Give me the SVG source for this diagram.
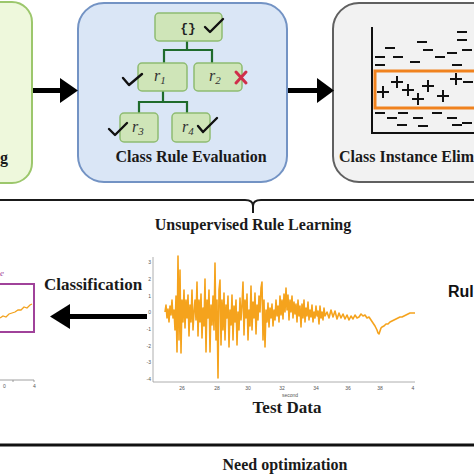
<svg xmlns="http://www.w3.org/2000/svg" width="474" height="474" viewBox="0 0 474 474">
<style>
.title{font-family:"Liberation Serif","Times New Roman",serif;font-weight:bold;fill:#1a1a1a}
.rl{font-family:"Liberation Serif","Times New Roman",serif;font-style:italic;font-size:16px;fill:#333}
.tb{fill:#cfe5b8;stroke:#8fbc72;stroke-width:1.5}
.tree{fill:none;stroke:#1f6b2c;stroke-width:2.2}
.chk{fill:none;stroke:#111;stroke-width:2.4;stroke-linecap:round;stroke-linejoin:round}
.mn{stroke:#111;stroke-width:2}
.pl{stroke:#111;stroke-width:2}
.ax{font-family:"Liberation Sans",Arial,sans-serif;font-size:5px;fill:#555}
</style>
<rect width="474" height="474" fill="#fff"/>

<g id="node-mining">
<rect x="-30" y="2" width="62" height="181" rx="20" fill="#eef8dc" stroke="#9cc76c" stroke-width="2"/>
<text class="title" x="0" y="163" font-size="16">g</text>
</g>

<g id="node-evaluation">
<rect x="78" y="3" width="209" height="179" rx="26" fill="#dae6f6" stroke="#7393c4" stroke-width="2"/>
<path class="tree" d="M187,41 V50 M164,50 H212 M164,49 V63 M212,49 V63 M163,91 V102 M139,102 H187 M139,101 V113 M187,101 V113"/>
<rect class="tb" x="155" y="13" width="67" height="28" rx="4"/>
<rect class="tb" x="138" y="63" width="49" height="28" rx="4"/>
<rect class="tb" x="194" y="63" width="48" height="28" rx="4"/>
<rect class="tb" x="120" y="113" width="38" height="29" rx="4"/>
<rect class="tb" x="172" y="113" width="38" height="29" rx="4"/>
<text x="188" y="32" font-family="'Liberation Mono','DejaVu Sans Mono',monospace" font-size="13" font-weight="bold" fill="#222" text-anchor="middle">{}</text>
<text class="rl" x="154" y="81">r<tspan font-size="11" dy="3">1</tspan></text>
<text class="rl" x="209" y="81">r<tspan font-size="11" dy="3">2</tspan></text>
<text class="rl" x="132" y="132">r<tspan font-size="11" dy="3">3</tspan></text>
<text class="rl" x="182" y="132">r<tspan font-size="11" dy="3">4</tspan></text>
<path class="chk" d="M205,27 L210,32 L223,19"/>
<path class="chk" d="M123,78 L129,85 L142,74"/>
<path class="chk" d="M109,129 L115,135 L127,123"/>
<path class="chk" d="M198,126 L203,132 L217,118"/>
<path d="M236,72 L246,83 M246,72 L236,83" stroke="#cf2f4a" stroke-width="3" stroke-linecap="round"/>
<text class="title" x="191" y="162" font-size="16" text-anchor="middle">Class Rule Evaluation</text>
</g>

<g id="node-elimination">
<rect x="333" y="3" width="170" height="179" rx="26" fill="#f2f2f2" stroke="#606060" stroke-width="2"/>
<path d="M372,27 V133 H480" fill="none" stroke="#111" stroke-width="2"/>
<rect x="375" y="71" width="105" height="37" fill="none" stroke="#f0821e" stroke-width="3"/>
<g class="pl">
<path d="M377,92 h12 M383,86 v12"/>
<path d="M391,82 h12 M397,76 v12"/>
<path d="M402,90 h12 M408,84 v12"/>
<path d="M412,99 h12 M418,93 v12"/>
<path d="M422,86 h12 M428,80 v12"/>
<path d="M437,96 h12 M443,90 v12"/>
<path d="M450,79 h12 M456,73 v12"/>
</g>
<g class="mn">
<path d="M463,82 h10"/>
<path d="M457,32 h10 M457,40 h10 M417,42 h10 M385,48 h10 M375,57 h10 M393,57 h10 M423,50 h10 M435,57 h10 M447,53 h10 M462,50 h10 M410,62 h10 M375,65 h10 M452,65 h10"/>
<path d="M375,113 h10 M387,118 h10 M398,113 h10 M397,125 h10 M413,118 h10 M418,126 h10 M432,113 h10 M447,118 h10 M452,125 h10 M462,123 h10"/>
</g>
<text class="title" x="339" y="162" font-size="16">Class Instance Elimination</text>
</g>

<g id="node-unsupervised">
<path d="M0,200 H245 Q253,200 253,206 V213 M253,206 Q253,200 261,200 H474" fill="none" stroke="#1a1a1a" stroke-width="2"/>
<text class="title" x="253" y="230" font-size="16" text-anchor="middle">Unsupervised Rule Learning</text>
</g>

<g id="node-result">
<path d="M0,380 H34 M13,380 v2 M34,380 v2" stroke="#888" stroke-width="0.8" fill="none"/>
<text class="ax" x="3" y="388">0</text>
<text class="ax" x="33" y="388">4</text>
<text x="0" y="276" font-family="'Liberation Serif',serif" font-style="italic" font-size="9" fill="#a0429a">e</text>
<rect x="-10" y="284" width="44" height="48" fill="none" stroke="#a0429a" stroke-width="2"/>
<path d="M0,318 L3,316 L6,317 L9,314 L12,313 L15,312 L18,310 L21,310 L24,307 L27,308 L30,305 L32,304" fill="none" stroke="#f2a21e" stroke-width="1.3"/>
</g>

<g id="node-testdata">
<path d="M153,257 V382 H415" fill="none" stroke="#999" stroke-width="0.8"/>
<g class="ax" text-anchor="end">
<text x="151" y="264">3</text><text x="151" y="281">2</text><text x="151" y="298">1</text><text x="151" y="314">0</text>
<text x="151" y="331">-1</text><text x="151" y="348">-2</text><text x="151" y="364">-3</text><text x="151" y="381">-4</text>
</g>
<g class="ax" text-anchor="middle">
<text x="182" y="390">26</text><text x="217" y="390">28</text><text x="248" y="390">30</text><text x="282" y="390">32</text>
<text x="316" y="390">34</text><text x="348" y="390">36</text><text x="380" y="390">38</text><text x="413" y="390">4</text>
<text x="290" y="397">second</text>
</g>
<path fill="none" stroke="#f5a31d" stroke-width="1.6" stroke-linejoin="round" d="M165,312 L166,305 L167,318 L168,309 L169,322 L170,306 L171,315 L172,300 L173,318 L174,310 L175,330 L176,296 L177,352 L178,256 L179,340 L180,270 L181,353 L182,300 L183,322 L184,290 L185,328 L186,300 L187,318 L188,295 L189,336 L190,305 L191,322 L192,290 L193,330 L194,312 L195,300 L196,320 L197,282 L198,336 L199,300 L200,322 L201,294 L202,338 L203,308 L204,326 L205,279 L206,352 L207,300 L208,318 L209,290 L210,352 L211,305 L212,325 L213,296 L214,330 L215,263 L216,340 L217,300 L218,378 L219,290 L220,280 L221,345 L222,300 L223,330 L224,293 L225,340 L226,305 L227,318 L228,296 L229,347 L230,310 L231,325 L232,295 L233,340 L234,306 L235,322 L236,300 L237,345 L238,312 L239,330 L240,298 L241,320 L242,305 L243,282 L244,335 L245,300 L246,318 L247,294 L248,340 L249,310 L250,326 L251,286 L252,330 L253,302 L254,318 L255,293 L256,334 L257,305 L258,320 L259,296 L260,312 L261,288 L262,282 L263,340 L264,300 L265,347 L266,310 L267,322 L268,303 L269,327 L270,308 L271,318 L272,304 L273,326 L274,310 L275,320 L276,300 L277,316 L278,306 L279,322 L280,296 L281,315 L282,300 L283,319 L284,294 L285,312 L286,288 L287,310 L288,295 L289,320 L290,300 L291,312 L292,296 L293,318 L294,302 L295,314 L296,304 L297,322 L298,300 L299,316 L300,306 L301,327 L302,304 L303,318 L304,300 L305,322 L306,308 L307,316 L308,302 L309,320 L310,310 L311,317 L312,305 L313,322 L314,312 L315,318 L316,306 L317,316 L318,311 L319,324 L320,306 L321,318 L322,312 L323,320 L324,308 L325,316 L327,312 L329,318 L331,310 L333,317 L335,311 L337,319 L339,313 L341,318 L343,314 L345,319 L347,315 L349,320 L351,316 L353,319 L355,315 L357,318 L359,317 L361,314 L363,316 L365,315 L367,318 L369,317 L371,320 L373,323 L375,326 L377,330 L378,333 L379,334 L380,331 L381,328 L382,327 L384,326 L386,324 L388,324 L390,322 L392,321 L394,320 L396,319 L398,318 L400,317 L402,317 L404,316 L406,315 L408,314 L410,313 L412,313 L414,313 L415,313"/>
<text class="title" x="287" y="413" font-size="17" text-anchor="middle">Test Data</text>
</g>

<g id="node-rule">
<text x="448" y="297" font-family="'Liberation Sans',Arial,sans-serif" font-weight="bold" font-size="16" fill="#111">Rul</text>
</g>

<g id="node-optimization">
<line x1="0" y1="445" x2="474" y2="445" stroke="#111" stroke-width="3"/>
<text class="title" x="285" y="470" font-size="16" text-anchor="middle">Need optimization</text>
</g>

<g id="connectors">
<line x1="33" y1="90.5" x2="60" y2="90.5" stroke="#000" stroke-width="5"/>
<path d="M60,78 L78,90.5 L60,103 Z" fill="#000"/>
<line x1="288" y1="90.5" x2="317" y2="90.5" stroke="#000" stroke-width="5"/>
<path d="M317,78 L334,90.5 L317,103 Z" fill="#000"/>
<line x1="147" y1="316.5" x2="70" y2="316.5" stroke="#000" stroke-width="5"/>
<path d="M70,304 L50,316.5 L70,329 Z" fill="#000"/>
<text class="title" x="93" y="290" font-size="17" text-anchor="middle">Classification</text>
</g>
</svg>
